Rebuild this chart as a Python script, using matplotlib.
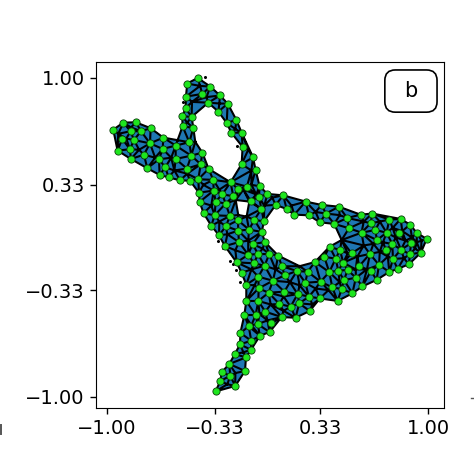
import matplotlib
matplotlib.use("Agg")
import matplotlib.pyplot as plt
import matplotlib.tri as mtri
import numpy as np
from matplotlib.colors import ListedColormap
from matplotlib.lines import Line2D
from matplotlib.patches import FancyBboxPatch
from matplotlib.path import Path

# green mesh nodes, upper arms
upper_x = [-0.435, -0.500, -0.356, -0.406, -0.296, -0.508, -0.369, -0.248, -0.510, -0.306, -0.531, -0.473, -0.194,
           -0.254, -0.529, -0.462, -0.225, -0.161, -0.961, -0.898, -0.821, -0.728, -0.853, -0.788, -0.905, -0.832,
           -0.649, -0.487, -0.572, -0.732, -0.155, -0.653, -0.857, -0.934, -0.406, -0.770, -0.475, -0.090, -0.851,
           -0.676, -0.572, -0.416, -0.161, -0.637, -0.749, -0.502, -0.367, -0.074, -0.672, -0.616, -0.545, -0.483,
           -0.431, -0.338, -0.230, -0.049, -0.128, -0.182, -0.335, -0.427, -0.281, 0.000, -0.213, -0.053, -0.423,
           -0.323, -0.261, -0.105, -0.038, -0.398, -0.329, -0.234, -0.184, -0.082, -0.022, -0.350, -0.259, -0.115,
           -0.182, -0.036, -0.302]
upper_y = [1.000, 0.965, 0.946, 0.900, 0.890, 0.883, 0.845, 0.839, 0.810, 0.789, 0.760, 0.756, 0.737, 0.718, 0.697,
           0.687, 0.657, 0.657, 0.676, 0.720, 0.722, 0.685, 0.666, 0.666, 0.618, 0.611, 0.626, 0.597, 0.576, 0.590,
           0.568, 0.555, 0.553, 0.545, 0.532, 0.519, 0.513, 0.503, 0.492, 0.490, 0.492, 0.459, 0.459, 0.440, 0.434,
           0.432, 0.430, 0.423, 0.392, 0.377, 0.358, 0.356, 0.365, 0.361, 0.346, 0.321, 0.319, 0.302, 0.294, 0.281,
           0.271, 0.273, 0.258, 0.254, 0.223, 0.225, 0.212, 0.229, 0.179, 0.152, 0.139, 0.135, 0.108, 0.110, 0.101,
           0.074, 0.070, 0.049, 0.043, 0.035, 0.014]

# right arm
right_x = [0.098, 0.051, 0.238, 0.337, 0.445, 0.119, 0.167, 0.258, 0.364, 0.497, 0.580, 0.653, 0.327, 0.416, 0.643,
           0.759, 0.830, 0.888, 0.508, 0.586, 0.672, 0.742, 0.819, 0.931, 0.992, 0.682, 0.778, 0.894, 0.638, 0.738,
           0.832, 0.956, 0.888, 0.782, 0.695, 0.881, 0.811, 0.759, 0.645, 0.680]
right_y = [0.264, 0.204, 0.225, 0.204, 0.193, 0.179, 0.143, 0.139, 0.150, 0.122, 0.143, 0.150, 0.095, 0.085, 0.089,
           0.112, 0.116, 0.081, 0.058, 0.030, 0.047, 0.030, 0.030, 0.028, -0.009, -0.016, -0.041, -0.037, -0.103,
           -0.078, -0.076, -0.095, -0.105, -0.135, -0.172, -0.168, -0.197, -0.216, -0.210, -0.266]

# lower arm and centre
lower_x = [-0.265, -0.178, -0.093, -0.016, -0.120, -0.059, 0.011, 0.067, -0.192, -0.084, -0.018, 0.090, -0.161,
           -0.057, 0.107, 0.184, 0.250, 0.296, 0.354, 0.387, 0.452, 0.425, 0.472, 0.524, 0.572, 0.499, 0.441, 0.385,
           0.331, 0.236, 0.034, -0.132, -0.055, 0.007, 0.105, 0.188, 0.258, 0.327, 0.404, 0.462, 0.477, 0.551, 0.529,
           0.591, 0.437, -0.132, -0.057, 0.074, 0.144, 0.198, 0.263, -0.014, -0.074, -0.144, 0.088, 0.175, 0.022,
           -0.061, -0.117, 0.013, -0.169, -0.047, -0.101, -0.171, -0.103, -0.203, -0.134, -0.238, -0.140, -0.284,
           -0.232, -0.294, -0.201, -0.323]
lower_y = [-0.054, -0.029, -0.041, -0.029, -0.108, -0.104, -0.104, -0.114, -0.156, -0.162, -0.177, -0.181, -0.221,
           -0.246, -0.238, -0.210, -0.215, -0.154, -0.121, -0.058, -0.079, -0.133, -0.158, -0.100, -0.179, -0.204,
           -0.208, -0.217, -0.277, -0.284, -0.271, -0.296, -0.319, -0.346, -0.340, -0.355, -0.371, -0.382, -0.313,
           -0.323, -0.267, -0.252, -0.350, -0.307, -0.398, -0.398, -0.398, -0.417, -0.434, -0.413, -0.461, -0.465,
           -0.486, -0.486, -0.499, -0.503, -0.539, -0.543, -0.557, -0.593, -0.599, -0.616, -0.647, -0.670, -0.704,
           -0.731, -0.752, -0.793, -0.837, -0.844, -0.867, -0.900, -0.931, -0.965]

# mesh nodes without a green marker, estimated from the dark spots
plain_x = [0.93, 0.96, 0.90, 0.86, 0.84, 0.80, 0.72, 0.75, 0.85, 0.92, 0.70, 0.66, 0.60, 0.56, 0.62, 0.55, 0.50, 0.45,
           0.38, 0.30, 0.20, 0.14, 0.05, 0.10, 0.02, -0.08, -0.10, 0.28, 0.10,
           -0.30, -0.25, -0.20, -0.12, -0.03, -0.35, -0.30, -0.15, -0.10, -0.07, -0.02, 0.03, -0.40, -0.50, -0.58,
           -0.70, -0.80, -0.88, -0.93, -0.85, -0.60, -0.45, -0.50, -0.47, -0.42, -0.38, -0.30, -0.20, -0.12, -0.10,
           -0.15, -0.20, -0.25, -0.10, -0.05, 0.00, 0.15, 0.30, 0.45, 0.60, 0.70, 0.78,
           -0.198, -0.113, -0.130, -0.182, -0.56, 0.462, 0.20]
plain_y = [-0.03, -0.02, 0.00, -0.02, 0.04, 0.00, -0.03, -0.12, -0.13, -0.07, -0.09, -0.04, -0.05, -0.12, -0.20, -0.20,
           -0.10, -0.28, -0.33, -0.32, -0.30, -0.28, -0.20, -0.37, -0.42, -0.30, -0.20, -0.42, -0.46,
           0.10, 0.02, -0.08, -0.02, -0.07, 0.20, 0.30, 0.30, 0.33, 0.27, 0.20, 0.25, 0.33, 0.40, 0.42, 0.50, 0.55,
           0.62, 0.65, 0.69, 0.50, 0.60, 0.72, 0.85, 0.95, 0.88, 0.84, 0.68, 0.55, 0.42,
           -0.72, -0.85, -0.92, -0.55, -0.48, -0.52, 0.20, 0.16, 0.14, 0.10, 0.10, 0.06,
           0.235, 0.225, 0.131, 0.141, 0.61, -0.016, -0.18]

# outside of the shape and its three holes
outline_x = [-0.435, -0.356, -0.296, -0.248, -0.194, -0.161, -0.090, -0.074, -0.049, 0.000, 0.098, 0.238, 0.337, 0.445,
             0.580, 0.653, 0.830, 0.888, 0.931, 0.992, 0.956, 0.881, 0.811, 0.759, 0.680, 0.591, 0.529, 0.437, 0.327,
             0.263, 0.175, 0.088, 0.013, -0.047, -0.103, -0.134, -0.140, -0.201, -0.323, -0.294, -0.284, -0.238,
             -0.203, -0.171, -0.169, -0.144, -0.132, -0.132, -0.161, -0.192, -0.265, -0.302, -0.350, -0.398, -0.423,
             -0.427, -0.483, -0.545, -0.616, -0.672, -0.749, -0.851, -0.934, -0.961, -0.898, -0.821, -0.728, -0.649,
             -0.560, -0.529, -0.531, -0.510, -0.508, -0.500]
outline_y = [1.000, 0.946, 0.890, 0.839, 0.737, 0.657, 0.503, 0.423, 0.321, 0.273, 0.264, 0.225, 0.204, 0.193, 0.143,
             0.150, 0.116, 0.081, 0.028, -0.009, -0.095, -0.168, -0.197, -0.216, -0.266, -0.307, -0.350, -0.398,
             -0.382, -0.461, -0.503, -0.499, -0.593, -0.616, -0.704, -0.752, -0.837, -0.931, -0.965, -0.900, -0.844,
             -0.793, -0.731, -0.670, -0.599, -0.486, -0.398, -0.296, -0.221, -0.156, -0.054, 0.014, 0.074, 0.152,
             0.223, 0.281, 0.356, 0.358, 0.377, 0.392, 0.434, 0.492, 0.545, 0.676, 0.720, 0.722, 0.685, 0.626, 0.610,
             0.697, 0.760, 0.810, 0.883, 0.965]
hole1_x = [-0.369, -0.306, -0.254, -0.225, -0.155, -0.161, -0.230, -0.367, -0.406, -0.462, -0.473]
hole1_y = [0.845, 0.789, 0.718, 0.657, 0.568, 0.459, 0.346, 0.430, 0.532, 0.687, 0.756]
hole2_x = [0.051, 0.119, 0.167, 0.258, 0.327, 0.416, 0.462, 0.385, 0.296, 0.200, 0.067, -0.016, -0.036, -0.022]
hole2_y = [0.204, 0.179, 0.143, 0.139, 0.095, 0.085, -0.016, -0.058, -0.154, -0.180, -0.114, -0.029, 0.035, 0.101]
hole3_x = [-0.198, -0.113, -0.130, -0.182]
hole3_y = [0.235, 0.225, 0.131, 0.141]

# tiny loose points next to the mesh
stray_x = [-0.234, -0.217, -0.198, -0.171, -0.306, -0.275, -0.392, -0.192, -0.524]
stray_y = [-0.146, -0.166, -0.204, -0.277, -0.022, -0.068, 1.004, 0.574, 0.848]

ticks = [-1.0, -0.33, 0.33, 1.0]
tick_labels = ["\u22121.00", "\u22120.33", "0.33", "1.00"]

node_x = np.array(upper_x + right_x + lower_x)
node_y = np.array(upper_y + right_y + lower_y)
mesh_x = np.concatenate([node_x, plain_x])
mesh_y = np.concatenate([node_y, plain_y])

fig = plt.figure(figsize=(4.74, 4.74), dpi=100)
ax = fig.add_axes([96 / 474, 1 - 408 / 474, 348 / 474, 346 / 474])

# keep only the triangles inside the outline and outside the holes
tri = mtri.Triangulation(mesh_x, mesh_y)
centre = np.column_stack([mesh_x[tri.triangles].mean(axis=1), mesh_y[tri.triangles].mean(axis=1)])
keep = Path(np.column_stack([outline_x, outline_y])).contains_points(centre)
for hx, hy in [(hole1_x, hole1_y), (hole2_x, hole2_y), (hole3_x, hole3_y)]:
    keep &= ~Path(np.column_stack([hx, hy])).contains_points(centre)
tri.set_mask(~keep)

ax.tripcolor(tri, facecolors=np.zeros(len(tri.triangles)), cmap=ListedColormap(["#1f77b4"]))
ax.triplot(tri, color="black", lw=1.5)
ax.plot(stray_x, stray_y, "o", color="black", ms=1.2)
ax.plot(node_x, node_y, "o", mfc="#1ee61e", mec="#0a3a0a", mew=0.6, ms=5.2, ls="none")

ax.set_xlim(-1.0685, 1.10)
ax.set_ylim(-1.069, 1.10)
ax.set_xticks(ticks)
ax.set_xticklabels(tick_labels, fontsize=14)
ax.set_yticks(ticks)
ax.set_yticklabels(tick_labels, fontsize=14)
ax.tick_params(length=4.5, width=1)

ax.add_patch(FancyBboxPatch((0.83, 0.855), 0.15, 0.122, boxstyle="round,pad=0,rounding_size=0.03",
                            transform=ax.transAxes, fc="white", ec="black", lw=1.2))
ax.text(0.905, 0.916, "b", transform=ax.transAxes, ha="center", va="center", fontsize=15)

# bits of the neighbouring panels cut off at the image edges
fig.add_artist(Line2D([1 / 474, 1 / 474], [1 - 425 / 474, 1 - 434 / 474], color="#555555", lw=1.4))
fig.add_artist(Line2D([471 / 474, 1], [1 - 398 / 474, 1 - 398 / 474], color="#555555", lw=1))

plt.savefig("out.png", dpi=100)
